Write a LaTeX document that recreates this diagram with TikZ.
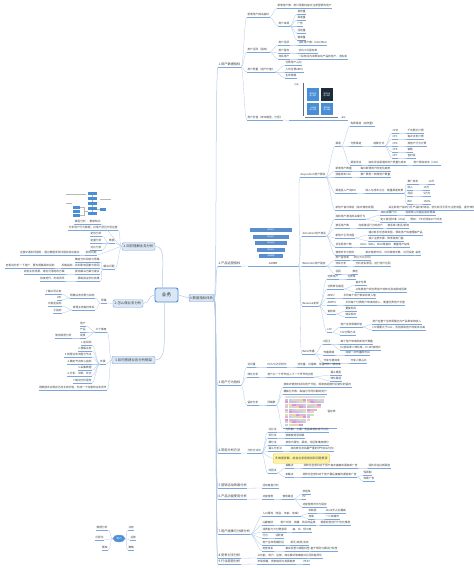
\documentclass[tikz,border=0pt]{standalone}
\usepackage{fontspec}
\setmainfont{Noto Sans CJK SC}
\usetikzlibrary{shapes.geometric}
\definecolor{ulc}{HTML}{7BA7DE}
\definecolor{cnc}{HTML}{B3C9E8}
\definecolor{txtc}{HTML}{404040}
\definecolor{boxf}{HTML}{DCE7F5}
\definecolor{boxd}{HTML}{7FA6D9}
\definecolor{bluec}{HTML}{4A8FD6}
\definecolor{navyc}{HTML}{1E2B3A}
\definecolor{func}{HTML}{5A8ECF}
\definecolor{yelf}{HTML}{FFF4A3}
\definecolor{yeld}{HTML}{F2C14E}
\definecolor{grayc}{HTML}{B8B8B8}
\newcommand\lfont{\fontsize{2.7}{3}\selectfont}
\newcommand\hfont{\fontsize{3.2}{3.6}\selectfont}
\newcommand\NR[4]{\node[lf,anchor=west] (#1) at (#2,#3) {#4};}
\newcommand\NL[4]{\node[lf,anchor=east] (#1) at (#2,#3) {#4};}
\newcommand\ER[2]{\draw[cn] (#1.south east) .. controls +(3,0) and +(-3,0) .. (#2.south west);}
\newcommand\EL[2]{\draw[cn] (#1.south west) .. controls +(-3,0) and +(3,0) .. (#2.south east);}
\newcommand\ELB[2]{\draw[cn] (#1.west) .. controls +(-3,0) and +(3,0) .. (#2.south east);}
\begin{document}
\begin{tikzpicture}[x=1pt,y=-1pt,
  ul/.style={draw=ulc,line width=0.35pt},
  lf/.style={font=\lfont,inner xsep=0.3pt,inner ysep=0.5pt,text height=2.1pt,text depth=0.5pt,text=txtc,
     append after command={(\tikzlastnode.south west) edge[ul] (\tikzlastnode.south east)}},
  l1/.style={lf,font=\hfont,text height=2.5pt,text depth=0.6pt,anchor=west},
  cn/.style={draw=cnc,line width=0.3pt},
  cnm/.style={draw=cnc,line width=0.5pt},
  mbox/.style={rounded corners=1.2pt,fill=boxf,draw=boxd,line width=0.45pt,font=\fontsize{3.4}{3.8}\selectfont,
     inner sep=0.8pt,minimum height=7.5pt,text=txtc},
  cbox/.style={rounded corners=2pt,fill=boxf,draw=bluec,line width=0.9pt,font=\fontsize{4.6}{5}\selectfont,
     minimum width=23pt,minimum height=14pt,text=navyc},
  ybox/.style={rounded corners=1pt,fill=yelf,draw=yeld,line width=0.4pt,font=\fontsize{2.9}{3.2}\selectfont,
     inner xsep=2pt,minimum height=7pt,text=txtc},
  fun/.style={fill=func,inner sep=0,minimum height=4pt,font=\fontsize{1.8}{2}\selectfont,text=white},
  rfm/.style={inner sep=0,minimum width=12pt,minimum height=12.5pt,align=center,font=\fontsize{1.7}{2.1}\selectfont,text=white}
]
\useasboundingbox (0,0) rectangle (474,568);
\fill[white] (0,0) rectangle (474,568);

% ---------- centre and main boxes ----------
\node[cbox] (root) at (166.5,295) {业务};
\node[mbox,minimum width=33pt] (L1) at (138.5,246.5) {1.如何理解业务分析};
\node[mbox,minimum width=30pt] (L2) at (128,303.5) {2.怎么做业务分析};
\node[mbox,minimum width=43pt] (L3) at (133.5,360) {3.如何搭建业务分析框架};
\node[mbox,minimum width=23pt] (RB) at (201.5,298) {4.数据指标体系};
\draw[cnm] (root.west) .. controls (148,295) and (150,303.5) .. (L2.east);
\draw[cnm] ([xshift=-4pt]root.north) .. controls (162,262) and (166,246.5) .. (L1.east);
\draw[cnm] ([xshift=-2pt]root.south) .. controls (164,340) and (167,360) .. (L3.east);
\draw[cnm] (root.east) -- (RB.west);

% ---------- left branch 1 ----------
% small flow chart picture
\foreach \yy [count=\i] in {192,197,202,207,212}{\fill[bluec] (88,\yy) rectangle (97,\yy+3.2);}
\foreach \yy [count=\i] in {205.5,209.5,213.5}{\fill[bluec] (73,\yy) rectangle (80,\yy+3);}
\fill[bluec] (99.5,207.5) rectangle (106,210.7);
\draw[grayc,line width=0.2pt] (80,207) -- (84,207) -- (84,215) -- (80,215) (84,211) -- (88,211);
\draw[grayc,line width=0.2pt] (97,209) -- (99.5,209) (92.5,195.2) -- (92.5,197) (92.5,200.2) -- (92.5,202) (92.5,205.2) -- (92.5,207) (92.5,210.2) -- (92.5,212);
\draw[grayc,line width=0.2pt] (66,194) -- (86,194) (100,199) -- (111,199) (66,203) -- (72,203);
\NL{l1a}{101}{222}{模型分析 · 框架知识}
\NL{l1b}{118}{228}{分析用户行为数据，对用户进行分层运营}
\NL{l1c}{115}{241}{数据}
\NL{l1c1}{102}{234}{定性分析}
\NL{l1c2}{102}{241}{定量分析}
\NL{l1c3}{102}{248}{对比分析}
\NL{l1d}{97}{253}{发现问题}
\NL{l1d1}{80}{253}{运营中遇到问题时，通过数据发现问题并给出建议}
\NL{l1e}{115}{267}{解决问题}
\NL{l1e1}{100}{260}{确定分析目标与思路}
\NL{l1e2}{100}{266}{拆解指标，找到影响因素与原因}
\NL{l1e2a}{55}{266}{老板说分析一下用户，要先明确具体目的}
\NL{l1e3}{100}{272}{提出解决方案与建议}
\NL{l1e3a}{65}{272}{结合业务场景，给出可落地的方案}
\NL{l1e4}{100}{279}{跟踪验证优化效果}
\NL{l1e4a}{65}{279}{持续迭代，形成闭环}
\ELB{L1}{l1a}\ELB{L1}{l1b}\ELB{L1}{l1c}\ELB{L1}{l1d}\ELB{L1}{l1e}
\EL{l1c}{l1c1}\EL{l1c}{l1c2}\EL{l1c}{l1c3}\EL{l1d}{l1d1}
\EL{l1e}{l1e1}\EL{l1e}{l1e2}\EL{l1e}{l1e3}\EL{l1e}{l1e4}
\EL{l1e2}{l1e2a}\EL{l1e3}{l1e3a}\EL{l1e4}{l1e4a}

% ---------- left branch 2 ----------
\NL{l2a}{107}{301}{思路}
\NL{l2b}{95}{296}{明确业务背景与目标}
\NL{l2b1}{62}{292}{了解公司业务}
\NL{l2b2}{62}{298}{KPI}
\NL{l2c}{95}{308}{梳理业务指标体系}
\NL{l2c1}{62}{304}{北极星指标}
\NL{l2c2}{62}{311}{子指标}
\ELB{L2}{l2a}\EL{l2a}{l2b}\EL{l2a}{l2c}\EL{l2b}{l2b1}\EL{l2b}{l2b2}\EL{l2c}{l2c1}\EL{l2c}{l2c2}

% ---------- left branch 3 ----------
\NL{l3a}{107}{330}{三个维度}
\NL{l3a1}{86}{324}{用户}
\NL{l3a2}{86}{330}{产品}
\NL{l3a3}{86}{336}{场景}
\NL{l3a3a}{72}{336}{使用场景分析}
\NL{l3b}{106}{362}{步骤}
\NL{l3b1}{92}{343}{1.定目标}
\NL{l3b2}{92}{349}{2.理解业务}
\NL{l3b3}{92}{355}{3.梳理业务流程与节点}
\NL{l3b4}{92}{362}{4.确定节点核心指标}
\NL{l3b5}{92}{368}{5.采集数据}
\NL{l3b6}{92}{374}{6.分析、诊断、优化}
\NL{l3b7}{92}{381}{7.输出分析报告}
\NL{l3c}{107}{388}{用数据去证明自己的业务价值，形成一个完整的业务闭环}
\ELB{L3}{l3a}\ELB{L3}{l3b}\ELB{L3}{l3c}
\EL{l3a}{l3a1}\EL{l3a}{l3a2}\EL{l3a}{l3a3}\EL{l3a3}{l3a3a}
\EL{l3b}{l3b1}\EL{l3b}{l3b2}\EL{l3b}{l3b3}\EL{l3b}{l3b4}\EL{l3b}{l3b5}\EL{l3b}{l3b6}\EL{l3b}{l3b7}

% ---------- small floating map ----------
\node[ellipse,fill=bluec,draw=boxd,line width=0.5pt,minimum width=12pt,minimum height=7pt,inner sep=0,
  font=\fontsize{2.5}{3}\selectfont,text=white] (mm) at (119,538.5) {能力};
\NL{mm1}{108}{528}{数据分析}
\NL{mm2}{104}{538}{可视化}
\NL{mm3}{108}{548}{框架}
\NR{mm4}{128}{528}{业务}
\NR{mm5}{130}{538}{运营}
\NR{mm6}{128}{548}{策略}
\foreach \t in {mm1,mm2,mm3}{\draw[cn] (mm.west) .. controls +(-3,0) and +(3,0) .. (\t.south east);}
\foreach \t in {mm4,mm5,mm6}{\draw[cn] (mm.east) .. controls +(3,0) and +(-3,0) .. (\t.south west);}

% ---------- right level 1 ----------
\node[l1] (R1) at (218,65) {1.用户数据指标};
\node[l1] (R2) at (218,264) {2.产品运营指标};
\node[l1] (R3) at (218,383) {3.用户行为指标};
\node[l1] (R4) at (218,451) {4.常用分析方法};
\node[l1] (R5) at (218,486) {5.营销活动效果分析};
\node[l1] (R6) at (218,497) {6.产品功能使用分析};
\node[l1] (R7) at (218,532) {7.用户画像与分群分析};
\node[l1] (R8) at (218,556) {8.竞争对手分析};
\node[l1] (R9) at (218,562) {9.行业趋势分析};
\foreach \n in {R1,R2,R3,R4,R5,R6,R7,R8,R9}{\draw[cnm] (RB.east) .. controls +(3,0) and +(-3,0) .. (\n.south west);}

% ---------- 1. user data ----------
\NR{a}{247}{15}{新增用户相关指标}
\NR{a1}{277}{6}{新增用户数：统计周期内首次注册登录的用户}
\NR{a2}{278}{24}{用户来源}
\NR{a21}{297}{12}{自然量}
\NR{a22}{297}{18}{渠道量}
\NR{a23}{297}{24}{广告}
\NR{a24}{297}{31}{活动量}
\NR{a25}{297}{38}{邀请量}
\NR{b}{247}{50}{用户活跃（留存）}
\NR{b1}{278}{43}{用户活跃}
\NR{b1a}{298}{43}{活跃用户数：DAU/MAU}
\NR{b2}{278}{51}{用户留存}
\NR{b2a}{298}{51}{次日/7日留存率}
\NR{b3}{278}{57}{流失用户}
\NR{b3a}{298}{57}{一段时间内未再启动产品的用户，流失率}
\NR{c}{247}{70}{用户质量（用户价值）}
\NR{c1}{285}{63}{付费用户占比}
\NR{c2}{285}{70}{人均付费ARPU}
\NR{c3}{285}{76}{生命周期}
\NR{d}{247}{118}{用户价值（RFM模型，分层）}
\ER{R1}{a}\ER{R1}{b}\ER{R1}{c}\ER{R1}{d}
\ER{a}{a1}\ER{a}{a2}\ER{a2}{a21}\ER{a2}{a22}\ER{a2}{a23}\ER{a2}{a24}\ER{a2}{a25}
\ER{b}{b1}\ER{b}{b2}\ER{b}{b3}\ER{b1}{b1a}\ER{b2}{b2a}\ER{b3}{b3a}
\ER{c}{c1}\ER{c}{c2}\ER{c}{c3}
% RFM chart
\coordinate (chartL) at (289,120.3);
\draw[ul] (chartL) -- (348,120.3);
\ER{d}{chartL}
\draw[navyc!70,line width=0.8pt] (303,83) -- (303,116);
\draw[gray,line width=0.5pt] (305,117.5) -- (338,117.5);
\node[font=\fontsize{2}{2.4}\selectfont,text=txtc,inner sep=0] (vlab) at (296.5,85) {价值};
\node[font=\fontsize{2}{2.4}\selectfont,text=txtc,inner sep=0] (hlab) at (343.5,117.5) {频次};
\node[rfm,fill=bluec] (rfm1) at (313,94.5) {重要发展\\用户维护};
\node[rfm,fill=navyc] (rfm2) at (327,94.5) {重要价值\\用户维护};
\node[rfm,fill=bluec] (rfm3) at (313,109) {一般挽留\\用户召回};
\node[rfm,fill=bluec] (rfm4) at (327,109) {重要保持\\用户唤醒};

% ---------- 2. AARRR ----------
\foreach \w/\yy/\t [count=\i] in {42/230/获取用户,36/236.5/激活用户,32/243/提高留存,28/249.5/增加收入,24/256/传播推荐}{
  \node[fun,minimum width=\w pt] (fun\i) at (271,\yy) {\t};}
\node[lf,anchor=west,minimum width=50pt] (aar) at (248,264) {AARRR};
\ER{R2}{aar}
\NR{acq}{300}{175}{Acquisition用户获取}
\NR{act}{302}{234}{Activation用户激活}
\NR{ret}{302}{264}{Retention用户留存}
\NR{rev}{302}{304}{Revenue变现}
\NR{ref}{302}{352}{Refer传播}
\ER{aar}{acq}\ER{aar}{act}\ER{aar}{ret}\ER{aar}{rev}\ER{aar}{ref}
% acquisition
\NR{ac1}{335}{144}{渠道}
\NR{ch1}{350}{124}{免费渠道（自然量）}
\NR{ch2}{350}{144}{付费渠道}
\NR{ch2a}{373}{144}{结算方式}
\NR{cpm}{392}{131}{CPM}\NR{cpmt}{407}{131}{千次展示计费}
\NR{cpc}{392}{137}{CPC}\NR{cpct}{407}{137}{每次点击计费}
\NR{cpa}{392}{144}{CPA}\NR{cpat}{407}{144}{按用户行为计费}
\NR{cps}{392}{150}{CPS}\NR{cpst}{407}{150}{销售}
\NR{cpt}{392}{156}{CPT}\NR{cptt}{407}{156}{包时段}
\NR{ch3}{350}{163}{渠道评估}
\NR{ch3a}{368}{163}{综合评估渠道的用户质量与成本}
\NR{ch3b}{413}{163}{用户获取成本（CAC）}
\NR{ac2}{335}{169}{新增用户数量}
\NR{ac2a}{360}{169}{每日新增用户的变化趋势}
\NR{ac3}{335}{175}{获客成本CAC}
\NR{ac3a}{360}{175}{推广费用÷新增用户数量}
\NR{ac4}{335}{191}{渠道投入产出ROI}
\NR{ac4a}{365}{191}{收入与成本之比，衡量渠道效果}
\NR{ac41}{407}{182}{推广成本}\NR{ac41a}{428}{182}{10万}
\NR{ac42}{407}{188}{收入}\NR{ac42a}{423}{188}{15万}
\NR{ac43}{407}{194}{利润}\NR{ac43a}{423}{194}{5万元}
\NR{ac44}{407}{202}{ROI}\NR{ac44a}{423}{202}{150\%}
\NR{ac5}{335}{208}{新用户首日体验（首次使用流程）}
\NR{ac5a}{388}{208}{关注新用户首次打开产品时的体验，优化新手引导与注册流程，提升转化}
\ER{acq}{ac1}\ER{acq}{ac2}\ER{acq}{ac3}\ER{acq}{ac4}\ER{acq}{ac5}
\ER{ac1}{ch1}\ER{ac1}{ch2}\ER{ac1}{ch3}\ER{ch2}{ch2a}
\ER{ch2a}{cpm}\ER{ch2a}{cpc}\ER{ch2a}{cpa}\ER{ch2a}{cps}\ER{ch2a}{cpt}
\ER{cpm}{cpmt}\ER{cpc}{cpct}\ER{cpa}{cpat}\ER{cps}{cpst}\ER{cpt}{cptt}
\ER{ch3}{ch3a}\ER{ch3a}{ch3b}\ER{ac2}{ac2a}\ER{ac3}{ac3a}\ER{ac4}{ac4a}
\ER{ac4a}{ac41}\ER{ac4a}{ac42}\ER{ac4a}{ac43}\ER{ac4a}{ac44}
\ER{ac41}{ac41a}\ER{ac42}{ac42a}\ER{ac43}{ac43a}\ER{ac44}{ac44a}\ER{ac5}{ac5a}
% activation
\NR{at1}{335}{217}{找到用户激活的关键行为}
\NR{at11}{380}{213}{找到关键行为}
\NR{at11a}{405}{213}{完成核心功能后留存更高}
\NR{at12}{380}{220}{定义激活标准（Aha）}
\NR{at12a}{410}{220}{例如：7天内添加10个好友}
\NR{at2}{335}{226}{激活用户数}
\NR{at2a}{358}{226}{完成激活行为的用户}
\NR{at2b}{387}{226}{激活率=激活/新增}
\NR{at3}{335}{236}{新用户引导流程}
\NR{at31}{368}{233}{通过新手任务和奖励，帮助用户快速理解产品}
\NR{at32}{368}{239}{减少注册步骤，降低使用门槛}
\NR{at4}{335}{245}{日活跃用户数}
\NR{at4a}{360}{245}{DAU、WAU、MAU等指标}
\NR{at4b}{393}{245}{衡量用户粘性}
\NR{at5}{335}{253}{使用时长与频次}
\NR{at5a}{365}{253}{单次使用时长、日均使用次数、访问深度}
\NR{at5b}{415}{253}{粘性}
\ER{act}{at1}\ER{act}{at2}\ER{act}{at3}\ER{act}{at4}\ER{act}{at5}
\ER{at1}{at11}\ER{at1}{at12}\ER{at11}{at11a}\ER{at12}{at12a}
\ER{at2}{at2a}\ER{at2a}{at2b}\ER{at3}{at31}\ER{at3}{at32}
\ER{at4}{at4a}\ER{at4a}{at4b}\ER{at5}{at5a}\ER{at5a}{at5b}
% retention
\NR{rt1}{335}{258}{用户留存率}\NR{rt1a}{353}{258}{次日/7日/30日}
\NR{rt2}{335}{264}{流失分析}\NR{rt2a}{355}{264}{分析流失原因，进行用户召回}
\NR{rt3}{335}{272}{召回}\NR{rt3a}{352}{272}{推送}
\ER{ret}{rt1}\ER{ret}{rt2}\ER{ret}{rt3}\ER{rt1}{rt1a}\ER{rt2}{rt2a}\ER{rt3}{rt3a}
% revenue
\NR{rv1}{327}{277}{付费用户}\NR{rv1a}{347}{277}{付费率}
\NR{rv2}{327}{287}{付费转化路径}
\NR{rv21}{355}{283}{首次付费}
\NR{rv22}{355}{290}{从免费用户到付费用户的转化及其影响因素}
\NR{rv3}{327}{296}{ARPU}\NR{rv3a}{343}{296}{平均每个用户带来的收入值}
\NR{rv4}{327}{303}{ARPPU}\NR{rv4a}{345}{303}{平均每个付费用户带来的收入，衡量付费用户价值}
\NR{rv5}{327}{312}{复购率}
\NR{rv51}{345}{309}{重复购买}
\NR{rv52}{345}{315}{购买频次}
\NR{rv6}{327}{330}{LTV}
\NR{rv6a}{340}{325}{用户生命周期价值}
\NR{rv6a1}{372}{322}{用户在整个生命周期内为产品带来的收入}
\NR{rv6a2}{372}{328}{LTV需要大于CAC，否则获取用户的成本过高}
\NR{rv6b}{340}{333}{LTV计算方法}
\ER{rev}{rv1}\ER{rev}{rv2}\ER{rev}{rv3}\ER{rev}{rv4}\ER{rev}{rv5}\ER{rev}{rv6}
\ER{rv1}{rv1a}\ER{rv2}{rv21}\ER{rv2}{rv22}\ER{rv3}{rv3a}\ER{rv4}{rv4a}
\ER{rv5}{rv51}\ER{rv5}{rv52}\ER{rv6}{rv6a}\ER{rv6}{rv6b}\ER{rv6a}{rv6a1}\ER{rv6a}{rv6a2}
% referral
\NR{rf1}{323}{342}{K因子}
\NR{rf1a}{340}{342}{每个用户带来的新用户数量}
\NR{rf1b}{340}{348}{K=感染率×转化率，K>1时自增长}
\NR{rf2}{323}{353}{传播周期}\NR{rf2a}{345}{353}{完成一次传播的时间}
\NR{rf3}{323}{361}{分享与邀请率}\NR{rf3a}{350}{361}{分享人数占比}
\ER{ref}{rf1}\ER{ref}{rf2}\ER{ref}{rf3}\ER{rf1}{rf1a}\ER{rf1}{rf1b}\ER{rf2}{rf2a}\ER{rf3}{rf3a}

% ---------- 3. behaviour ----------
\NR{u1}{247}{365}{访问量}\NR{u1a}{267}{365}{PV/UV/访问时长}\NR{u1b}{297}{365}{浏览量、访客数、停留时长、跳出率}
\NR{u2}{247}{375}{转化分析}\NR{u2a}{267}{375}{用户从一个环节进入下一个环节的比例}
\NR{u2a1}{330}{373}{漏斗模型}\NR{u2a2}{330}{379}{转化路径}
\NR{u3}{247}{403}{留存分析}\NR{u3a}{267}{403}{同期群}
\NR{u3a1}{283}{385}{按首次使用时间将用户分组，观察各组随时间变化的留存}
\NR{u3a2}{283}{392}{横轴为天数，纵轴为不同日期的用户}
\ER{R3}{u1}\ER{R3}{u2}\ER{R3}{u3}\ER{u1}{u1a}\ER{u1a}{u1b}\ER{u2}{u2a}\ER{u2a}{u2a1}\ER{u2a}{u2a2}
\ER{u3}{u3a}\ER{u3a}{u3a1}\ER{u3a}{u3a2}
% cohort picture
\fill[gray!25] (285,396) rectangle (325,398);
\foreach \j in {0,...,10}{
  \pgfmathtruncatemacro\nmax{10-int(\j*0.6)}
  \foreach \i in {0,...,\nmax}{
    \pgfmathtruncatemacro\cc{mod(\i*3+\j,7)}
    \ifcase\cc \def\cl{E9B3C9}\or\def\cl{C8A2DE}\or\def\cl{F3C6C6}\or\def\cl{B9D5EC}\or\def\cl{D9B9E3}\or\def\cl{F1D2AE}\or\def\cl{C9E3C4}\fi
    \definecolor{cellc}{HTML}{\cl}
    \fill[cellc] (285+\i*3.6,398.5+\j*2.5) rectangle (288.3+\i*3.6,400.6+\j*2.5);
  }}
\coordinate (cohL) at (283,428);
\draw[ul] (cohL) -- (337,428);
\node[font=\lfont,text=txtc,inner sep=0.3pt,anchor=west] (cohT) at (327,411) {留存表};
\ER{u3a}{cohL}

% ---------- 4. methods ----------
\NR{m0}{247}{451}{分析方法论}
\NR{m1}{268}{430}{对比法}\NR{m1a}{285}{430}{与同期、上期、竞品或目标进行对比}
\NR{m2}{268}{436}{拆分法}\NR{m2a}{285}{436}{按维度逐层拆解}
\NR{m3}{268}{443}{细分法}\NR{m3a}{285}{443}{按用户属性、渠道、地区等维度细分}
\NR{m4}{268}{449}{漏斗分析法}\NR{m4a}{290}{449}{找出转化流失最严重的环节加以优化}
\node[ybox,anchor=west] (m5) at (273,458.5) {多维度拆解，结合业务场景找到问题根源};
\NR{m6}{268}{471}{归因法}
\NR{m61}{285}{466}{首触点}\NR{m61a}{303}{466}{将转化全部归功于用户首次接触的渠道或广告}\NR{m61b}{368}{466}{适合评估拉新渠道}
\NR{m62}{285}{475}{末触点}\NR{m62a}{302}{475}{将转化全部归功于用户最后接触的渠道或广告}
\NR{m62b}{363}{473}{短周期}\NR{m62c}{363}{479}{效果广告}
\ER{R4}{m0}\ER{m0}{m1}\ER{m0}{m2}\ER{m0}{m3}\ER{m0}{m4}\ER{m0}{m6}
\draw[cn] (m0.south east) .. controls +(3,0) and +(-3,0) .. (m5.west);
\ER{m1}{m1a}\ER{m2}{m2a}\ER{m3}{m3a}\ER{m4}{m4a}
\ER{m6}{m61}\ER{m6}{m62}\ER{m61}{m61a}\ER{m61a}{m61b}\ER{m62}{m62a}\ER{m62a}{m62b}\ER{m62a}{m62c}

% ---------- 5 - 9 ----------
\NR{r5a}{262}{486}{活动复盘分析}
\NR{r6a}{262}{497}{功能使用}\NR{r6b}{282}{497}{使用路径}
\NR{r6b1}{302}{492}{渗透率}\NR{r6b2}{302}{497}{PV}\NR{r6b3}{302}{505}{功能使用时长与留存}
\ER{R5}{r5a}\ER{R6}{r6a}\ER{r6a}{r6b}\ER{r6b}{r6b1}\ER{r6b}{r6b2}\ER{r6b}{r6b3}
\NR{p1}{262}{514}{人口属性（性别、年龄、地域）}
\NR{p11}{308}{511}{年龄层}\NR{p11a}{325}{511}{18-24岁占比最高}
\NR{p12}{308}{517}{地域}\NR{p12a}{325}{517}{一二线城市}
\NR{p2}{262}{523}{兴趣偏好}\NR{p2a}{280}{523}{用户浏览、收藏、购买的品类}\NR{p2b}{320}{523}{根据标签进行个性化推荐}
\NR{p3}{262}{530}{消费能力与付费意愿}\NR{p3a}{292}{530}{高、中、低三档}
\NR{p4}{262}{536}{行为}\NR{p4a}{275}{536}{活跃度}
\NR{p5}{262}{543}{用户生命周期阶段}\NR{p5a}{290}{543}{新手/成熟/流失}
\NR{p6}{262}{549}{标签体系}\NR{p6a}{285}{549}{事实标签与模型标签}\NR{p6b}{310}{549}{基于规则与算法打标签}
\ER{R7}{p1}\ER{R7}{p2}\ER{R7}{p3}\ER{R7}{p4}\ER{R7}{p5}\ER{R7}{p6}
\ER{p1}{p11}\ER{p1}{p12}\ER{p11}{p11a}\ER{p12}{p12a}\ER{p2}{p2a}\ER{p2a}{p2b}
\ER{p3}{p3a}\ER{p4}{p4a}\ER{p5}{p5a}\ER{p6}{p6a}\ER{p6a}{p6b}
\NR{r8a}{257}{556}{从功能、用户、运营、商业模式等维度对比}\NR{r8b}{308}{556}{寻找差异化}
\NR{r9a}{257}{562}{市场规模、竞争格局与发展趋势}\NR{r9b}{303}{562}{PEST}
\ER{R8}{r8a}\ER{r8a}{r8b}\ER{R9}{r9a}\ER{r9a}{r9b}
\end{tikzpicture}
\end{document}
